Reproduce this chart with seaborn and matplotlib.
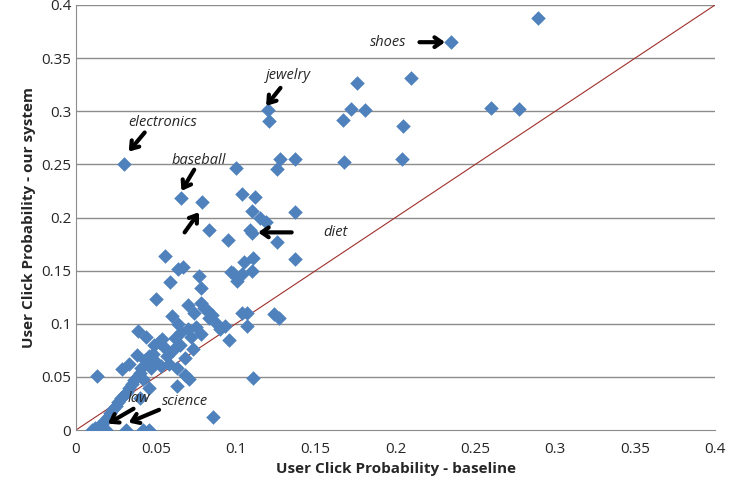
import matplotlib
matplotlib.use('Agg')
import matplotlib.pyplot as plt
import seaborn as sns
import pandas as pd

# baseline click probability vs. our system
baseline = [0.289, 0.235, 0.210, 0.176, 0.260, 0.277, 0.172, 0.181, 0.120, 0.121,
            0.167, 0.205, 0.030, 0.204, 0.168, 0.137, 0.128, 0.126, 0.100, 0.066,
            0.079, 0.104, 0.112, 0.137, 0.110, 0.115, 0.119, 0.109, 0.110, 0.126,
            0.083, 0.095, 0.137, 0.056, 0.067, 0.064, 0.077, 0.097, 0.105, 0.110,
            0.104, 0.111, 0.059, 0.078, 0.078, 0.098, 0.101, 0.107, 0.107, 0.124,
            0.127, 0.096, 0.050, 0.086, 0.111, 0.013, 0.070, 0.074, 0.080, 0.083,
            0.088, 0.090, 0.093, 0.060, 0.064, 0.066, 0.070, 0.072, 0.075, 0.078,
            0.082, 0.085, 0.062, 0.055, 0.052, 0.048, 0.046, 0.045, 0.043, 0.041,
            0.040, 0.038, 0.036, 0.035, 0.033, 0.032, 0.030, 0.028, 0.026, 0.025,
            0.023, 0.021, 0.020, 0.018, 0.016, 0.014, 0.012, 0.010, 0.047, 0.050,
            0.053, 0.057, 0.061, 0.065, 0.068, 0.073, 0.039, 0.044, 0.049, 0.054,
            0.058, 0.063, 0.068, 0.029, 0.033, 0.038, 0.042, 0.046, 0.071, 0.042,
            0.046, 0.031, 0.019, 0.040, 0.104, 0.063]
ours = [0.388, 0.365, 0.331, 0.327, 0.303, 0.302, 0.302, 0.301, 0.301, 0.291,
        0.292, 0.286, 0.250, 0.255, 0.252, 0.255, 0.255, 0.246, 0.247, 0.218,
        0.215, 0.222, 0.219, 0.205, 0.206, 0.200, 0.196, 0.188, 0.185, 0.177,
        0.188, 0.179, 0.161, 0.164, 0.153, 0.152, 0.145, 0.149, 0.158, 0.150,
        0.147, 0.162, 0.139, 0.134, 0.120, 0.148, 0.140, 0.110, 0.098, 0.109,
        0.105, 0.085, 0.123, 0.012, 0.049, 0.051, 0.118, 0.110, 0.115, 0.105,
        0.100, 0.095, 0.098, 0.107, 0.100, 0.092, 0.095, 0.088, 0.097, 0.090,
        0.113, 0.108, 0.087, 0.078, 0.083, 0.072, 0.070, 0.062, 0.066, 0.058,
        0.054, 0.050, 0.047, 0.043, 0.040, 0.036, 0.033, 0.030, 0.026, 0.023,
        0.020, 0.016, 0.012, 0.009, 0.006, 0.003, 0.002, 0.000, 0.058, 0.064,
        0.060, 0.070, 0.075, 0.080, 0.068, 0.076, 0.093, 0.088, 0.080, 0.086,
        0.062, 0.058, 0.052, 0.057, 0.062, 0.071, 0.048, 0.040, 0.048, 0.000,
        0.000, 0.000, 0.000, 0.030, 0.110, 0.041]

df = pd.DataFrame({'baseline': baseline, 'ours': ours})

sns.set_style('white')
plt.rcParams['font.family'] = ['Open Sans', 'DejaVu Sans']

fig = plt.figure(figsize=(7.29, 4.93), dpi=100)
ax = fig.add_axes([76/729, 1 - 430/493, (715-76)/729, (430-5)/493])

for yv in [0.05, 0.1, 0.15, 0.2, 0.25, 0.3, 0.35, 0.4]:
    ax.axhline(yv, color='#8c8c8c', lw=1, zorder=0)
ax.plot([0, 0.4], [0, 0.4], color='#a0302c', lw=0.8, zorder=1)

sns.scatterplot(data=df, x='baseline', y='ours', ax=ax, marker='D', s=55,
                color='#4f81bd', edgecolor='#4f81bd', linewidth=0, zorder=3)

ax.set_xlim(0, 0.4)
ax.set_ylim(0, 0.4)
ticks = [0, 0.05, 0.1, 0.15, 0.2, 0.25, 0.3, 0.35, 0.4]
labels = ['0', '0.05', '0.1', '0.15', '0.2', '0.25', '0.3', '0.35', '0.4']
ax.set_xticks(ticks)
ax.set_xticklabels(labels, fontsize=11)
ax.set_yticks(ticks)
ax.set_yticklabels(labels, fontsize=11)
ax.tick_params(axis='x', direction='out', length=5, color='#8c8c8c')
ax.tick_params(axis='y', length=0)
for s in ['top', 'right']:
    ax.spines[s].set_visible(False)
for s in ['left', 'bottom']:
    ax.spines[s].set_color('#8c8c8c')
ax.set_xlabel('User Click Probability - baseline', fontsize=11, fontweight='bold')
ax.set_ylabel('User Click Probability - our system', fontsize=11, fontweight='bold')

arr = dict(arrowstyle='->,head_width=0.35,head_length=0.5', color='black', lw=3,
           shrinkA=0, shrinkB=0)
tkw = dict(fontsize=10.5, style='italic', va='center')


def label(text, x, y):
    ax.text(x, y, text, **tkw)


def arrow(x0, y0, x1, y1):
    ax.annotate('', xy=(x1, y1), xytext=(x0, y0), arrowprops=arr, zorder=4)


label('shoes', 0.184, 0.365)
arrow(0.215, 0.365, 0.231, 0.365)
label('jewelry', 0.119, 0.334)
arrow(0.128, 0.322, 0.119, 0.305)
label('electronics', 0.033, 0.289)
arrow(0.043, 0.280, 0.033, 0.262)
label('baseball', 0.060, 0.254)
arrow(0.074, 0.245, 0.066, 0.225)
arrow(0.068, 0.186, 0.077, 0.205)
label('diet', 0.155, 0.186)
arrow(0.135, 0.186, 0.114, 0.186)
label('law', 0.032, 0.030)
arrow(0.036, 0.020, 0.020, 0.006)
label('science', 0.054, 0.027)
arrow(0.052, 0.019, 0.033, 0.007)

fig.savefig('out.png', dpi=100)
